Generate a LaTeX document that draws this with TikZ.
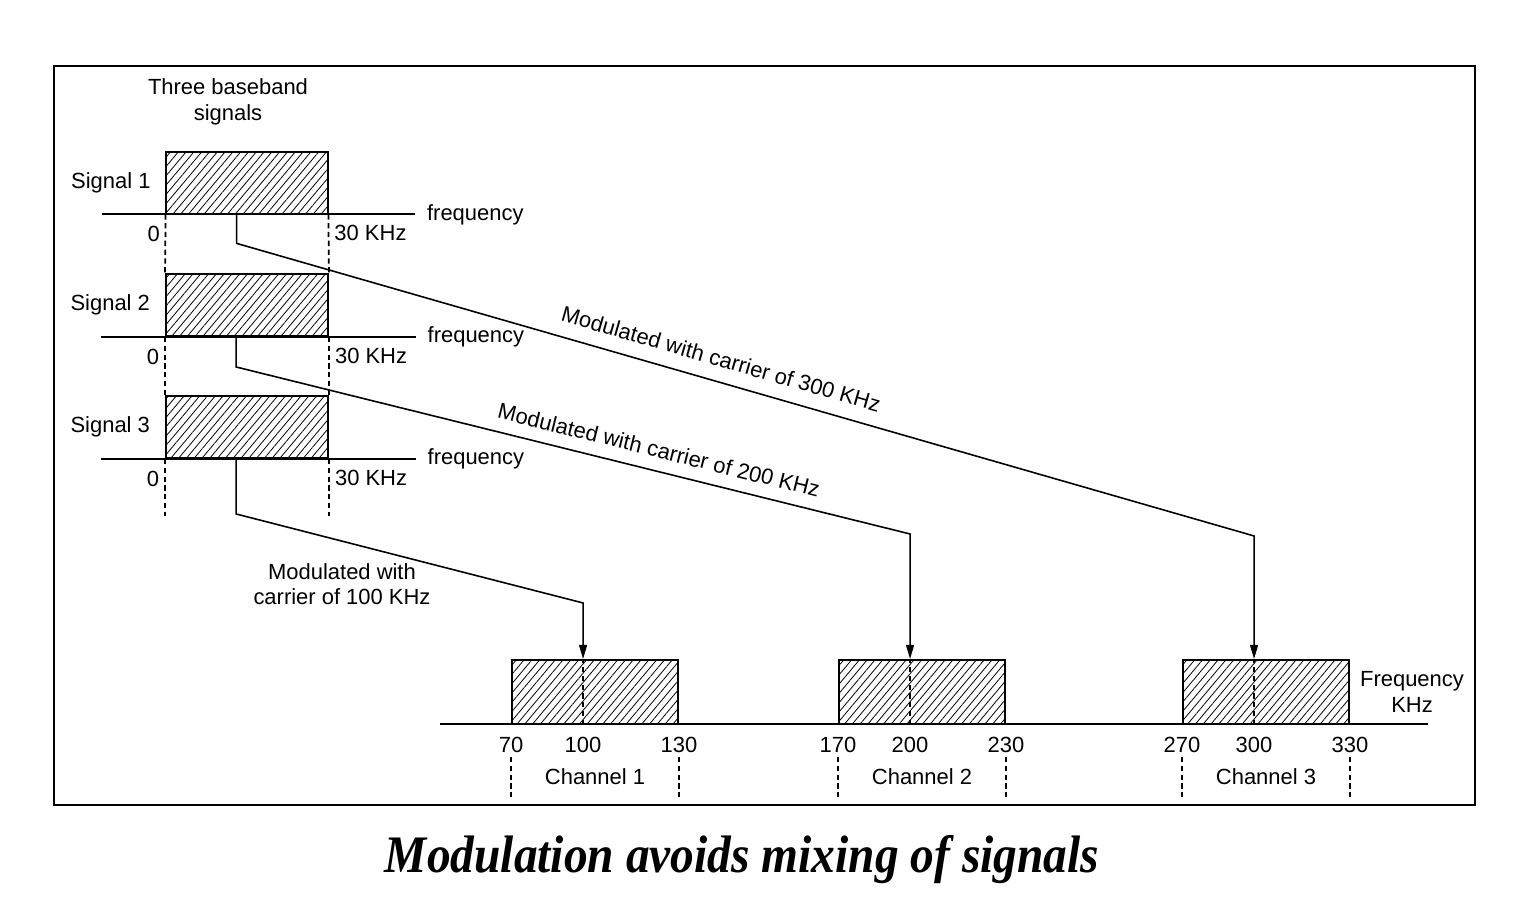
\documentclass[tikz,border=0pt]{standalone}
\usepackage{fontspec}
\setmainfont{Liberation Sans}
\newfontfamily\capfont{Liberation Serif}
\usetikzlibrary{arrows.meta, positioning, calc, patterns.meta}

\begin{document}
\begin{tikzpicture}[x=0.02cm, y=-0.02cm,
    band/.style={rectangle, draw, line width=1.1pt, inner sep=0pt,
                 pattern={Lines[angle=50, distance=3.4pt, line width=0.45pt]}},
    sig/.style={band, minimum width=3.24cm, minimum height=1.24cm},
    chan/.style={band, minimum width=3.32cm, minimum height=1.28cm},
    lbl/.style={font=\fontsize{12.5}{14.5}\selectfont, inner sep=1pt, align=center},
    axis/.style={line width=1.1pt},
    guide/.style={line width=1pt, dash pattern=on 3pt off 2pt},
    conn/.style={line width=0.9pt, -{Triangle[length=8pt, width=4.5pt]}},
  ]
    \useasboundingbox (0,0) rectangle (1536,922);
    \draw[line width=1.2pt] (54,66) rectangle (1475,805);

    % baseband signals
    \node[lbl] (title) at (228,102) {Three baseband\\signals};
    \foreach \i/\y in {1/183, 2/305, 3/427} {
      \node[sig] (s\i) at (247,\y) {};
      \node[lbl, left=0.26cm of s\i] (sl\i) {Signal \i};
      \draw[axis] ($(s\i.south west)+(-64,0)$) -- ($(s\i.south east)+(87,0)$)
        node[lbl, right=0.18cm] (fq\i) {frequency};
      \node[lbl] (z\i) at ($(s\i.south west)+(-12,20)$) {0};
      \node[lbl, anchor=west] (k\i) at ($(s\i.south east)+(4,19)$) {30 KHz};
      \coordinate (m\i) at ($(s\i.south west)+(71,0)$);
    }
    \draw[guide] (s1.south west) -- (s2.north west);
    \draw[guide] (s1.south east) -- (s2.north east);
    \draw[guide] (s2.south west) -- (s3.north west);
    \draw[guide] (s2.south east) -- (s3.north east);
    \draw[guide] (s3.south west) -- ++(0,57);
    \draw[guide] (s3.south east) -- ++(0,57);

    % channels
    \draw[axis] (440,724) -- (1428,724);
    \node[lbl] (fk) at (1412,692) {Frequency\\KHz};
    \foreach \i/\x/\a/\b/\c in {1/595/70/100/130, 2/922/170/200/230, 3/1266/270/300/330} {
      \node[chan] (ch\i) at (\x,692) {};
      \coordinate (c\i) at ($(ch\i.south west)+(72,0)$);
      \draw[guide, line width=0.8pt] (c\i) -- (c\i |- ch\i.north);
      \node[lbl] (a\i) at ($(ch\i.south west)+(0,20)$) {\a};
      \node[lbl] (b\i) at ($(c\i)+(0,20)$) {\b};
      \node[lbl] (e\i) at ($(ch\i.south east)+(0,20)$) {\c};
      \draw[guide] ($(ch\i.south west)+(0,32)$) -- ++(0,40);
      \draw[guide] ($(ch\i.south east)+(0,32)$) -- ++(0,40);
      \node[lbl] (cl\i) at ($(ch\i.south)+(0,52)$) {Channel \i};
    }

    % modulation paths
    \draw[conn] (m1) -- ++(0,29) -- ($(c3)+(0,-189)$)
      node[lbl, pos=0.47, sloped, above=7pt] (t3) {Modulated with carrier of 300 KHz}
      -- (c3 |- ch3.north);
    \draw[conn] (m2) -- ++(0,30) -- ($(c2)+(0,-191)$)
      node[lbl, pos=0.62, sloped, above=6pt] (t2) {Modulated with carrier of 200 KHz}
      -- (c2 |- ch2.north);
    \draw[conn] (m3) -- ++(0,55) -- ($(c1)+(0,-122)$) -- (c1 |- ch1.north);
    \node[lbl] (t1) at (342,584) {Modulated with\\carrier of 100 KHz};

    \node[font=\fontsize{30}{33}\selectfont\capfont\bfseries\itshape, xscale=0.9]
      (cap) at (742,860) {Modulation avoids mixing of signals};
\end{tikzpicture}
\end{document}
